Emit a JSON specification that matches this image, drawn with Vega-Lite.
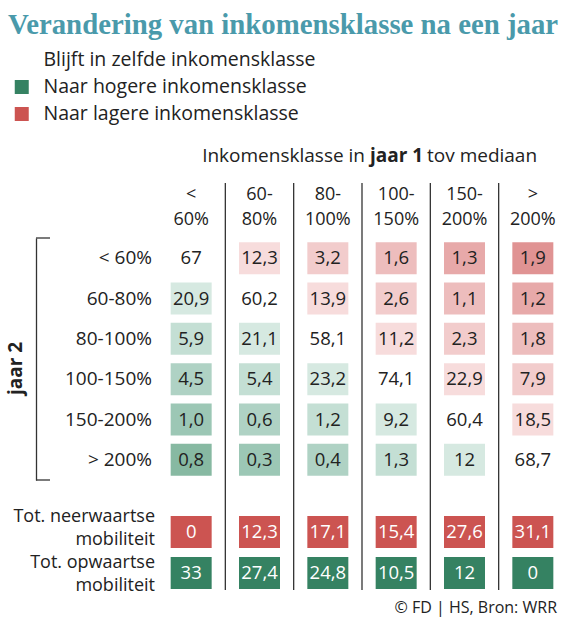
{
  "$schema": "https://vega.github.io/schema/vega-lite/v6.json",
  "autosize": {"type": "none"},
  "padding": {"left": 157, "top": 183, "right": 0, "bottom": 33},
  "width": 407,
  "height": 407,
  "title": {
    "text": "Verandering van inkomensklasse na een  jaar",
    "font": "Liberation Serif",
    "fontWeight": "bold",
    "fontSize": 28.8,
    "color": "#4a9aab",
    "anchor": "start",
    "frame": "group",
    "dx": -149,
    "offset": 10
  },
  "datasets": {
    "matrix": [
      {"jaar2": "< 60%", "jaar1": "< 60%", "waarde": "67"},
      {"jaar2": "< 60%", "jaar1": "60-80%", "waarde": "12,3"},
      {"jaar2": "< 60%", "jaar1": "80-100%", "waarde": "3,2"},
      {"jaar2": "< 60%", "jaar1": "100-150%", "waarde": "1,6"},
      {"jaar2": "< 60%", "jaar1": "150-200%", "waarde": "1,3"},
      {"jaar2": "< 60%", "jaar1": "> 200%", "waarde": "1,9"},
      {"jaar2": "60-80%", "jaar1": "< 60%", "waarde": "20,9"},
      {"jaar2": "60-80%", "jaar1": "60-80%", "waarde": "60,2"},
      {"jaar2": "60-80%", "jaar1": "80-100%", "waarde": "13,9"},
      {"jaar2": "60-80%", "jaar1": "100-150%", "waarde": "2,6"},
      {"jaar2": "60-80%", "jaar1": "150-200%", "waarde": "1,1"},
      {"jaar2": "60-80%", "jaar1": "> 200%", "waarde": "1,2"},
      {"jaar2": "80-100%", "jaar1": "< 60%", "waarde": "5,9"},
      {"jaar2": "80-100%", "jaar1": "60-80%", "waarde": "21,1"},
      {"jaar2": "80-100%", "jaar1": "80-100%", "waarde": "58,1"},
      {"jaar2": "80-100%", "jaar1": "100-150%", "waarde": "11,2"},
      {"jaar2": "80-100%", "jaar1": "150-200%", "waarde": "2,3"},
      {"jaar2": "80-100%", "jaar1": "> 200%", "waarde": "1,8"},
      {"jaar2": "100-150%", "jaar1": "< 60%", "waarde": "4,5"},
      {"jaar2": "100-150%", "jaar1": "60-80%", "waarde": "5,4"},
      {"jaar2": "100-150%", "jaar1": "80-100%", "waarde": "23,2"},
      {"jaar2": "100-150%", "jaar1": "100-150%", "waarde": "74,1"},
      {"jaar2": "100-150%", "jaar1": "150-200%", "waarde": "22,9"},
      {"jaar2": "100-150%", "jaar1": "> 200%", "waarde": "7,9"},
      {"jaar2": "150-200%", "jaar1": "< 60%", "waarde": "1,0"},
      {"jaar2": "150-200%", "jaar1": "60-80%", "waarde": "0,6"},
      {"jaar2": "150-200%", "jaar1": "80-100%", "waarde": "1,2"},
      {"jaar2": "150-200%", "jaar1": "100-150%", "waarde": "9,2"},
      {"jaar2": "150-200%", "jaar1": "150-200%", "waarde": "60,4"},
      {"jaar2": "150-200%", "jaar1": "> 200%", "waarde": "18,5"},
      {"jaar2": "> 200%", "jaar1": "< 60%", "waarde": "0,8"},
      {"jaar2": "> 200%", "jaar1": "60-80%", "waarde": "0,3"},
      {"jaar2": "> 200%", "jaar1": "80-100%", "waarde": "0,4"},
      {"jaar2": "> 200%", "jaar1": "100-150%", "waarde": "1,3"},
      {"jaar2": "> 200%", "jaar1": "150-200%", "waarde": "12"},
      {"jaar2": "> 200%", "jaar1": "> 200%", "waarde": "68,7"}
    ],
    "totaal": [
      {"rij": "Tot. neerwaartse\nmobiliteit", "richting": "Naar lagere inkomensklasse", "jaar1": "< 60%", "waarde": "0"},
      {"rij": "Tot. neerwaartse\nmobiliteit", "richting": "Naar lagere inkomensklasse", "jaar1": "60-80%", "waarde": "12,3"},
      {"rij": "Tot. neerwaartse\nmobiliteit", "richting": "Naar lagere inkomensklasse", "jaar1": "80-100%", "waarde": "17,1"},
      {"rij": "Tot. neerwaartse\nmobiliteit", "richting": "Naar lagere inkomensklasse", "jaar1": "100-150%", "waarde": "15,4"},
      {"rij": "Tot. neerwaartse\nmobiliteit", "richting": "Naar lagere inkomensklasse", "jaar1": "150-200%", "waarde": "27,6"},
      {"rij": "Tot. neerwaartse\nmobiliteit", "richting": "Naar lagere inkomensklasse", "jaar1": "> 200%", "waarde": "31,1"},
      {"rij": "Tot. opwaartse\nmobiliteit", "richting": "Naar hogere inkomensklasse", "jaar1": "< 60%", "waarde": "33"},
      {"rij": "Tot. opwaartse\nmobiliteit", "richting": "Naar hogere inkomensklasse", "jaar1": "60-80%", "waarde": "27,4"},
      {"rij": "Tot. opwaartse\nmobiliteit", "richting": "Naar hogere inkomensklasse", "jaar1": "80-100%", "waarde": "24,8"},
      {"rij": "Tot. opwaartse\nmobiliteit", "richting": "Naar hogere inkomensklasse", "jaar1": "100-150%", "waarde": "10,5"},
      {"rij": "Tot. opwaartse\nmobiliteit", "richting": "Naar hogere inkomensklasse", "jaar1": "150-200%", "waarde": "12"},
      {"rij": "Tot. opwaartse\nmobiliteit", "richting": "Naar hogere inkomensklasse", "jaar1": "> 200%", "waarde": "0"}
    ]
  },
  "layer": [
    {
      "data": {"name": "matrix"},
      "transform": [
        {
          "calculate": "indexof(['< 60%','60-80%','80-100%','100-150%','150-200%','> 200%'], datum.jaar2) - indexof(['< 60%','60-80%','80-100%','100-150%','150-200%','> 200%'], datum.jaar1)",
          "as": "stap"
        }
      ],
      "encoding": {
        "x": {
          "field": "jaar1",
          "type": "nominal",
          "scale": {
            "domain": ["< 60%", "60-80%", "80-100%", "100-150%", "150-200%", "> 200%"],
            "range": [0, 410],
            "paddingInner": 0,
            "paddingOuter": 0
          },
          "axis": {
            "orient": "top",
            "offset": -2,
            "domain": false,
            "ticks": false,
            "tickSize": 0,
            "grid": false,
            "labelPadding": 0,
            "labelAngle": 0,
            "labelBaseline": "top",
            "labelLineHeight": 25,
            "labelFontSize": 18,
            "labelFont": "Open Sans",
            "labelColor": "#222222",
            "labelOverlap": false,
            "labelExpr": "indexof(datum.label, '-') > 0 ? [slice(datum.label, 0, indexof(datum.label, '-') + 1), slice(datum.label, indexof(datum.label, '-') + 1)] : split(datum.label, ' ')",
            "title": null
          }
        },
        "y": {
          "field": "jaar2",
          "type": "nominal",
          "scale": {
            "domain": ["< 60%", "60-80%", "80-100%", "100-150%", "150-200%", "> 200%"],
            "range": [55, 297],
            "paddingInner": 0,
            "paddingOuter": 0
          },
          "axis": {
            "orient": "left",
            "offset": 121,
            "domain": true,
            "domainColor": "#333333",
            "domainWidth": 1.3,
            "ticks": false,
            "labels": false,
            "grid": false,
            "title": "jaar 2",
            "titleFont": "Open Sans",
            "titleFontWeight": "bold",
            "titleFontSize": 19,
            "titleColor": "#222222",
            "titleAngle": -90,
            "titleBaseline": "middle",
            "titleAlign": "center",
            "titleX": -21,
            "titleY": 185
          }
        }
      },
      "layer": [
        {
          "mark": {"type": "rect", "width": 41, "height": 32},
          "encoding": {
            "fill": {
              "field": "stap",
              "type": "ordinal",
              "scale": {
                "domain": [-5, -4, -3, -2, -1, 0, 1, 2, 3, 4, 5],
                "range": ["#e09393", "#e7a9a9", "#edbdbd", "#f2cccc", "#f7dcdc", "#ffffff", "#d6e9e1", "#c4dfd4", "#afd2c4", "#9cc7b5", "#87b9a2"]
              },
              "legend": null
            }
          }
        },
        {
          "mark": {"type": "text", "fontSize": 18.5, "color": "#222222", "baseline": "middle"},
          "encoding": {"text": {"field": "waarde", "type": "nominal"}}
        },
        {
          "transform": [{"filter": "datum.jaar1 == datum.jaar2"}],
          "mark": {"type": "text", "fontSize": 19, "color": "#222222", "align": "right", "baseline": "middle", "dx": -5},
          "encoding": {
            "x": {
              "datum": "< 60%",
              "type": "nominal",
              "bandPosition": 0,
              "scale": {"domain": ["< 60%", "60-80%", "80-100%", "100-150%", "150-200%", "> 200%"]}
            },
            "text": {"field": "jaar2", "type": "nominal"}
          }
        },
        {
          "transform": [{"filter": "datum.jaar1 == '< 60%' && datum.jaar2 == '< 60%'"}],
          "mark": {"type": "rule", "color": "#333333", "strokeWidth": 1.3},
          "encoding": {
            "x": {"value": -121},
            "x2": {"value": -107},
            "y": {
              "field": "jaar2",
              "type": "nominal",
              "bandPosition": 0,
              "scale": {"domain": ["< 60%", "60-80%", "80-100%", "100-150%", "150-200%", "> 200%"]}
            }
          }
        },
        {
          "transform": [{"filter": "datum.jaar1 == '< 60%' && datum.jaar2 == '> 200%'"}],
          "mark": {"type": "rule", "color": "#333333", "strokeWidth": 1.3},
          "encoding": {
            "x": {"value": -121},
            "x2": {"value": -107},
            "y": {
              "field": "jaar2",
              "type": "nominal",
              "bandPosition": 1,
              "scale": {"domain": ["< 60%", "60-80%", "80-100%", "100-150%", "150-200%", "> 200%"]}
            }
          }
        }
      ]
    },
    {
      "data": {"name": "totaal"},
      "encoding": {
        "x": {
          "field": "jaar1",
          "type": "nominal",
          "scale": {"domain": ["< 60%", "60-80%", "80-100%", "100-150%", "150-200%", "> 200%"]}
        },
        "y": {
          "field": "rij",
          "type": "nominal",
          "sort": null,
          "scale": {"range": [328.5, 410.5], "paddingInner": 0, "paddingOuter": 0},
          "axis": null
        }
      },
      "layer": [
        {
          "mark": {"type": "rect", "width": 41, "height": 32},
          "encoding": {
            "color": {
              "field": "richting",
              "type": "nominal",
              "scale": {
                "domain": ["Blijft in zelfde inkomensklasse", "Naar hogere inkomensklasse", "Naar lagere inkomensklasse"],
                "range": ["#ffffff", "#358262", "#cc5451"]
              },
              "legend": {
                "orient": "none",
                "legendX": -145,
                "legendY": -132.75,
                "title": null,
                "padding": 0,
                "symbolType": "square",
                "symbolSize": 196,
                "symbolStrokeWidth": 0,
                "symbolOpacity": 1,
                "labelFont": "Open Sans",
                "labelFontSize": 19.5,
                "labelColor": "#222222",
                "labelOffset": 12,
                "labelLimit": 400,
                "rowPadding": 6
              }
            }
          }
        },
        {
          "mark": {"type": "text", "fontSize": 18.5, "color": "#ffffff", "baseline": "middle"},
          "encoding": {"text": {"field": "waarde", "type": "nominal"}}
        },
        {
          "transform": [{"filter": "datum.jaar1 == '< 60%' && indexof(datum.rij, 'neer') > 0"}],
          "mark": {"type": "text", "fontSize": 18, "color": "#222222", "align": "right", "baseline": "middle", "dx": -2, "dy": -15, "lineBreak": "\n", "lineHeight": 22.5},
          "encoding": {
            "x": {
              "datum": "< 60%",
              "type": "nominal",
              "bandPosition": 0,
              "scale": {"domain": ["< 60%", "60-80%", "80-100%", "100-150%", "150-200%", "> 200%"]}
            },
            "text": {"field": "rij", "type": "nominal"}
          }
        },
        {
          "transform": [{"filter": "datum.jaar1 == '< 60%' && indexof(datum.rij, 'op') > 0"}],
          "mark": {"type": "text", "fontSize": 18, "color": "#222222", "align": "right", "baseline": "middle", "dx": -2, "dy": -10, "lineBreak": "\n", "lineHeight": 22.5},
          "encoding": {
            "x": {
              "datum": "< 60%",
              "type": "nominal",
              "bandPosition": 0,
              "scale": {"domain": ["< 60%", "60-80%", "80-100%", "100-150%", "150-200%", "> 200%"]}
            },
            "text": {"field": "rij", "type": "nominal"}
          }
        }
      ]
    },
    {
      "data": {"name": "matrix"},
      "transform": [{"filter": "datum.jaar2 == '< 60%' && datum.jaar1 != '< 60%'"}],
      "mark": {"type": "rule", "color": "#333333", "strokeWidth": 1.3},
      "encoding": {
        "x": {
          "field": "jaar1",
          "type": "nominal",
          "bandPosition": 0,
          "scale": {"domain": ["< 60%", "60-80%", "80-100%", "100-150%", "150-200%", "> 200%"]}
        }
      }
    },
    {
      "data": {"values": [{}]},
      "mark": {"type": "text", "text": "Inkomensklasse in", "fontSize": 19, "color": "#222222", "align": "right", "baseline": "middle", "dx": 3},
      "encoding": {
        "x": {"datum": "100-150%", "type": "nominal", "bandPosition": 0, "scale": {"domain": ["< 60%", "60-80%", "80-100%", "100-150%", "150-200%", "> 200%"]}},
        "y": {"value": -27}
      }
    },
    {
      "data": {"values": [{}]},
      "mark": {"type": "text", "text": "jaar 1", "fontSize": 19, "fontWeight": "bold", "color": "#222222", "align": "left", "baseline": "middle", "dx": 8},
      "encoding": {
        "x": {"datum": "100-150%", "type": "nominal", "bandPosition": 0, "scale": {"domain": ["< 60%", "60-80%", "80-100%", "100-150%", "150-200%", "> 200%"]}},
        "y": {"value": -27}
      }
    },
    {
      "data": {"values": [{}]},
      "mark": {"type": "text", "text": "tov mediaan", "fontSize": 19, "color": "#222222", "align": "left", "baseline": "middle", "dx": 65},
      "encoding": {
        "x": {"datum": "100-150%", "type": "nominal", "bandPosition": 0, "scale": {"domain": ["< 60%", "60-80%", "80-100%", "100-150%", "150-200%", "> 200%"]}},
        "y": {"value": -27}
      }
    },
    {
      "data": {"values": [{}]},
      "mark": {"type": "text", "text": "© FD | HS, Bron: WRR", "fontSize": 16, "color": "#222222", "align": "right", "baseline": "middle", "dx": -10},
      "encoding": {
        "x": {"datum": "> 200%", "type": "nominal", "bandPosition": 1, "scale": {"domain": ["< 60%", "60-80%", "80-100%", "100-150%", "150-200%", "> 200%"]}},
        "y": {"value": 425}
      }
    }
  ],
  "resolve": {"scale": {"y": "independent"}, "axis": {"y": "independent"}},
  "config": {
    "font": "Open Sans",
    "view": {"stroke": null}
  }
}
